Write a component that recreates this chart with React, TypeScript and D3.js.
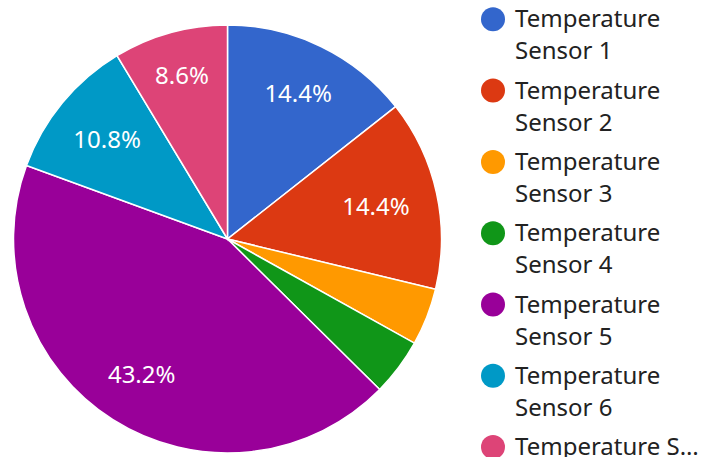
import React from "react";
import * as d3 from "d3";

const categories = [
  "Temperature Sensor 1",
  "Temperature Sensor 2",
  "Temperature Sensor 3",
  "Temperature Sensor 4",
  "Temperature Sensor 5",
  "Temperature Sensor 6",
  "Temperature Sensor 7",
];
const values = [20, 20, 6, 6, 60, 15, 12];
const colors = ["#3366cc", "#dc3912", "#ff9900", "#109618", "#990099", "#0099c6", "#dd4477"];
const legendLines = [
  ["Temperature", "Sensor 1"],
  ["Temperature", "Sensor 2"],
  ["Temperature", "Sensor 3"],
  ["Temperature", "Sensor 4"],
  ["Temperature", "Sensor 5"],
  ["Temperature", "Sensor 6"],
  ["Temperature S…"],
];

// label distance from centre, as a fraction of radius (layout)
const labelRadiusFrac = [0.756, 0.71, 0.7, 0.7, 0.749, 0.729, 0.794];

export default function App() {
  const W = 701, H = 457;
  const cx = 227.5, cy = 239, r = 214;
  const total = d3.sum(values);
  const pie = d3.pie<number>().sort(null).value((d) => d);
  const arcs = pie(values);
  const arc = d3.arc<d3.PieArcDatum<number>>().innerRadius(0).outerRadius(r);
  const font = "'Noto Sans', 'Open Sans', sans-serif";
  return (
    <svg width={W} height={H} style={{ position: "absolute", left: 0, top: 0, display: "block" }}>
      <rect width={W} height={H} fill="#fff" />
      <g transform={`translate(${cx},${cy})`}>
        {arcs.map((a, i) => (
          <path key={i} d={arc(a) || ""} fill={colors[i]} stroke="#fff" strokeWidth={1.5} />
        ))}
        {arcs.map((a, i) => {
          const pct = (values[i] / total) * 100;
          if (pct < 5) return null;
          const lr = r * labelRadiusFrac[i];
          const [x, y] = d3.arc<d3.PieArcDatum<number>>().innerRadius(lr).outerRadius(lr).centroid(a);
          return (
            <text key={i} x={x} y={y} dy="0.36em" textAnchor="middle" fill="#fff" fontSize={24} fontFamily={font}>
              {pct.toFixed(1) + "%"}
            </text>
          );
        })}
      </g>
      {categories.map((c, i) => {
        const base = 27.3 + i * 71.3;
        return (
          <g key={c}>
            <circle cx={493} cy={base - 8} r={12} fill={colors[i]} />
            {legendLines[i].map((ln, j) => (
              <text key={j} x={515} y={base + j * 32} fill="#222" fontSize={24} fontFamily={font}>
                {ln}
              </text>
            ))}
          </g>
        );
      })}
    </svg>
  );
}
